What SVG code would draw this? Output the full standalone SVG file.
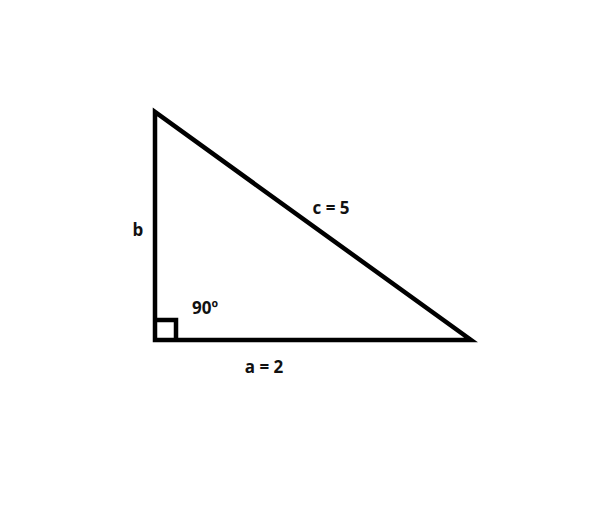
<svg xmlns="http://www.w3.org/2000/svg" width="600" height="525" viewBox="0 0 600 525">
<style>
.edge{fill:none;stroke:#000;stroke-width:4.5;stroke-linejoin:miter}
.lbl{font-family:"Open Sans","Liberation Sans",Arial,sans-serif;font-weight:bold;font-size:17px;fill:#111;text-anchor:middle}
</style>
<rect width="600" height="525" fill="#fff"/>
<g id="connectors">
<path class="edge" d="M155,112 L155,340 L471,340 Z"/>
<path class="edge" d="M155,320 L176,320 L176,340"/>
</g>
<g id="label-b"><text class="lbl" x="138" y="236">b</text></g>
<g id="label-c"><text class="lbl" x="331" y="214">c = 5</text></g>
<g id="label-angle"><text class="lbl" x="205" y="314">90º</text></g>
<g id="label-a"><text class="lbl" x="264" y="373">a = 2</text></g>
</svg>
